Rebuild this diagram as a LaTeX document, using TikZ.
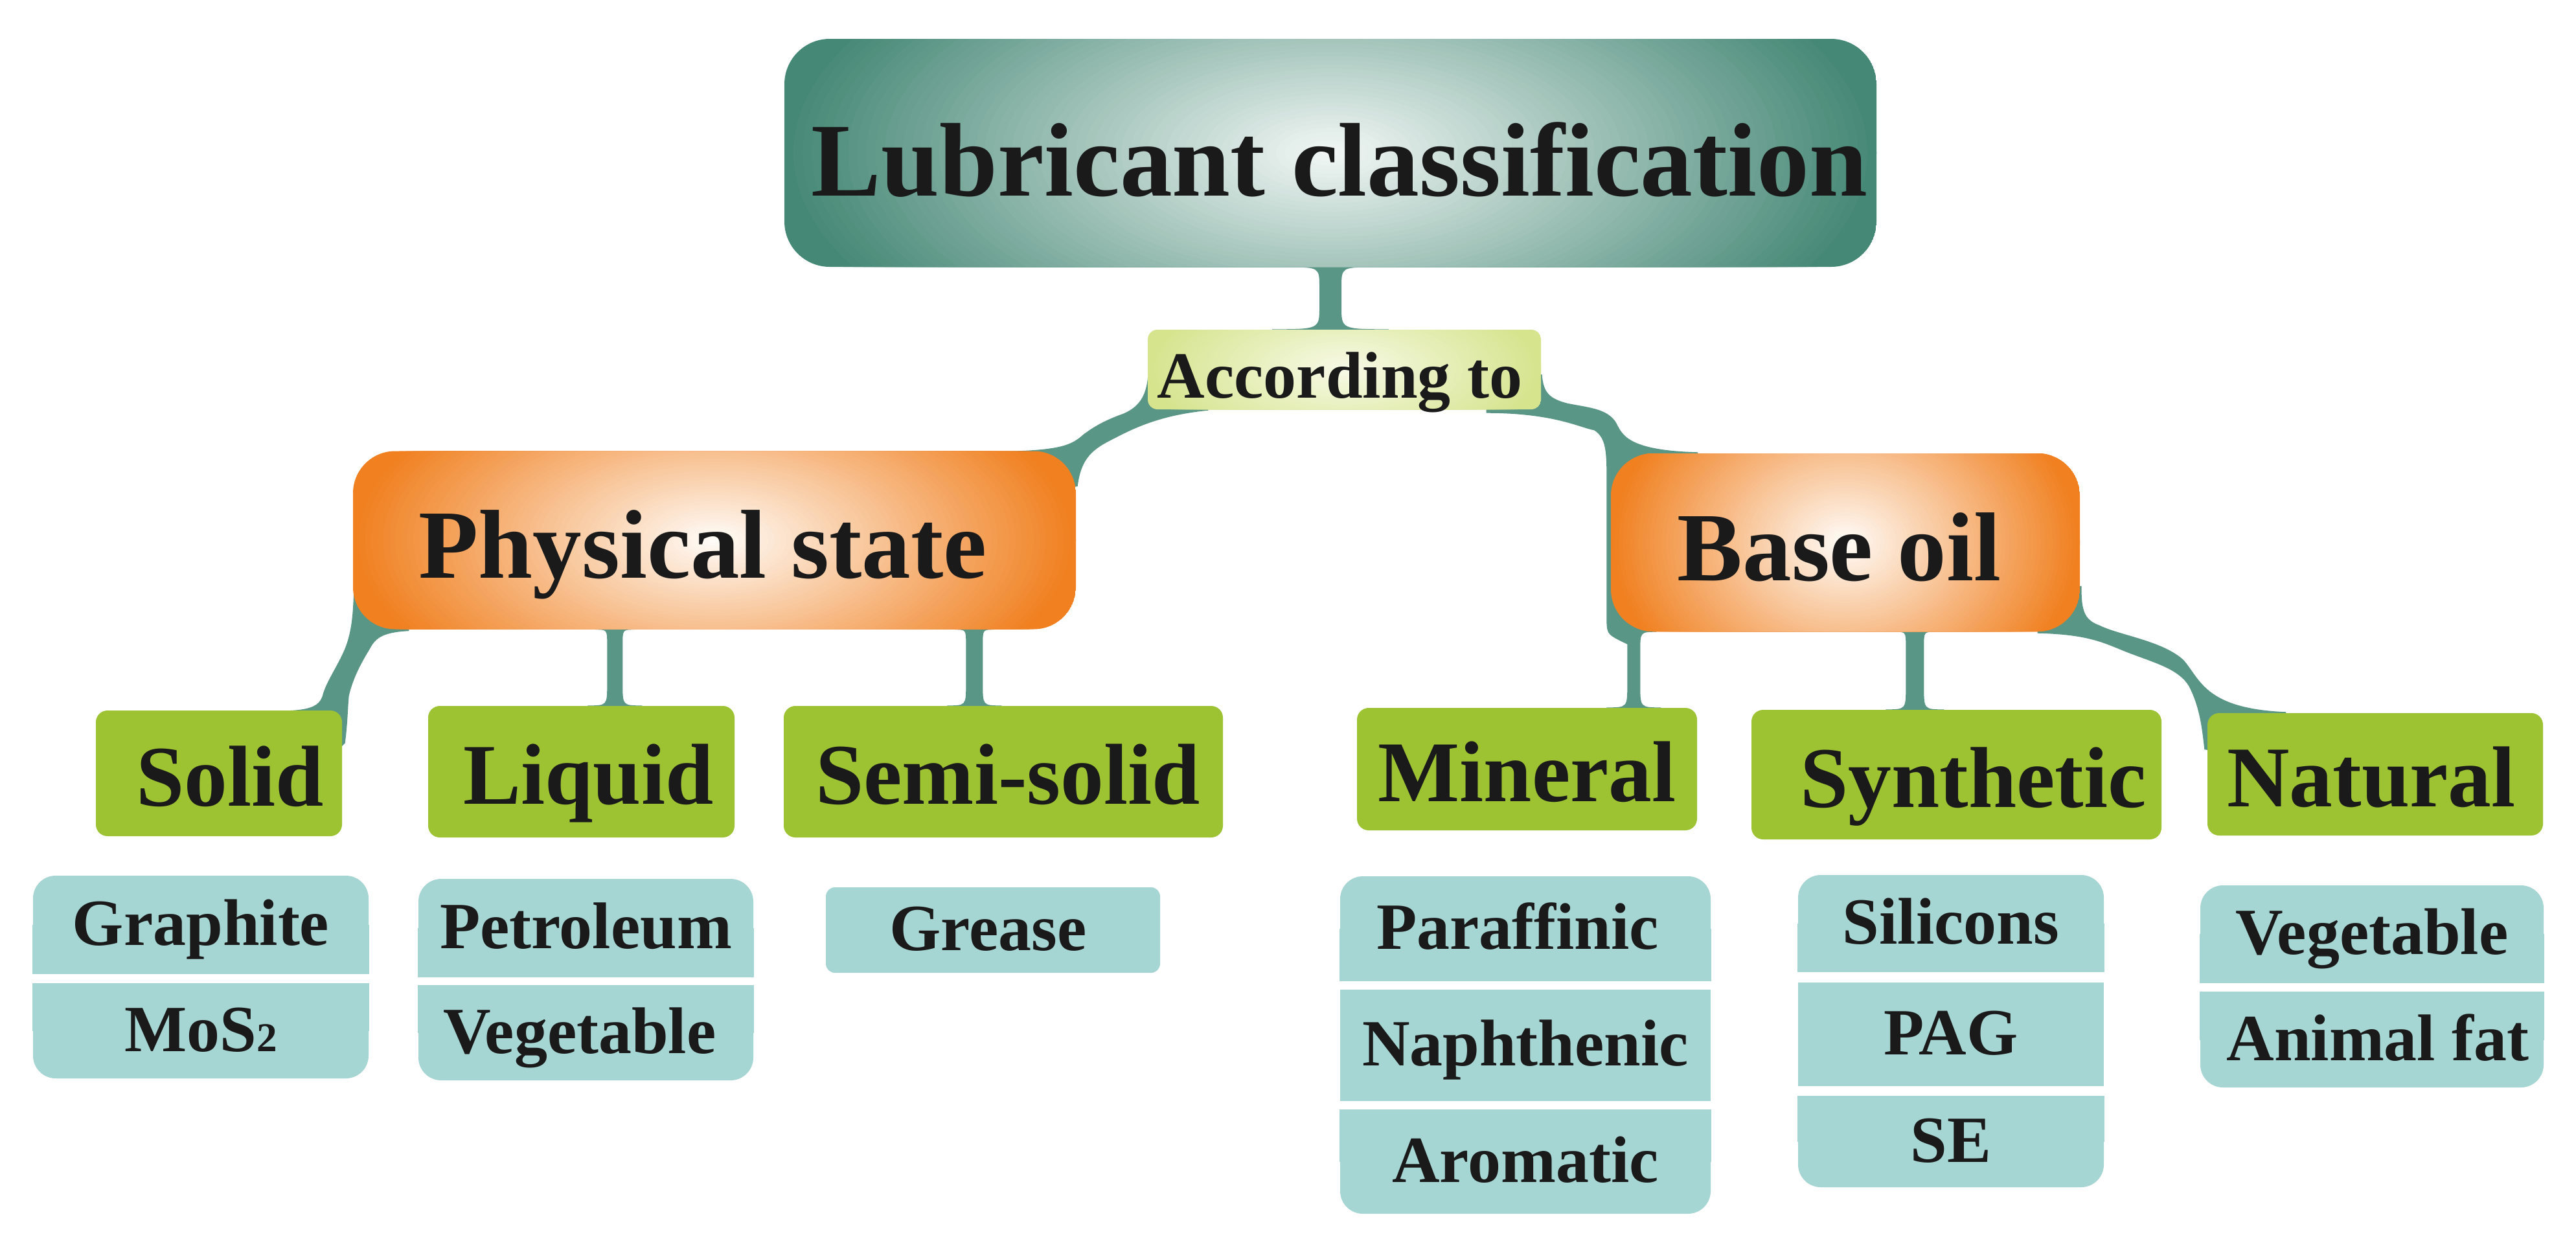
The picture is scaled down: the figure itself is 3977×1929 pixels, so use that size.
\documentclass[tikz,border=0pt]{standalone}
\usepackage{fontspec}
\setmainfont{Liberation Serif}
\usetikzlibrary{calc}
\definecolor{txt}{RGB}{26,26,26}
\definecolor{conn}{RGB}{90,150,134}
\definecolor{tealedge}{RGB}{70,136,118}
\definecolor{tealmid}{RGB}{244,248,246}
\definecolor{orangeedge}{RGB}{240,128,32}
\definecolor{orangemid}{RGB}{255,253,250}
\definecolor{accedge}{RGB}{214,228,142}
\definecolor{accmid}{RGB}{248,250,232}
\definecolor{grn}{RGB}{157,195,50}
\definecolor{ltl}{RGB}{166,214,211}
\pgfdeclarelayer{bg}
\pgfsetlayers{bg,main}
% vertical stem: #1 upper point, #2 lower point, #3 half width, #4 top flare, #5 bottom flare, #6 top fillet, #7 bottom fillet
\newcommand\lubstem[7]{%
 \fill[conn] let \p1=(#1), \p2=(#2) in
 (\x1-#4,\y1+1mm) -- (\x1-#4,\y1) .. controls (\x1-#3,\y1) .. (\x1-#3,\y1-#6)
 -- (\x1-#3,\y2+#7) .. controls (\x1-#3,\y2) .. (\x1-#5,\y2)
 -- (\x1-#5,\y2-1mm) -- (\x1+#5,\y2-1mm) -- (\x1+#5,\y2)
 .. controls (\x1+#3,\y2) .. (\x1+#3,\y2+#7) -- (\x1+#3,\y1-#6)
 .. controls (\x1+#3,\y1) .. (\x1+#4,\y1) -- (\x1+#4,\y1+1mm) -- cycle;}
\tikzset{
 gl/.style n args={3}{path picture={
   \fill[#1edge] (path picture bounding box.south west) rectangle (path picture bounding box.north east);
   \foreach \k in {0,...,59}{
     \pgfmathsetmacro\rr{1-\k/60}
     \pgfmathsetmacro\pp{100*\rr}
     \fill[#1edge!\pp!#1mid] (path picture bounding box.center) ellipse [x radius=\rr*#2, y radius=\rr*#3];
   }}},
 bx/.style={inner sep=0pt, text=txt, align=center, text depth=0pt},
 topbox/.style={bx, gl={teal}{84.3mm}{39mm}, rounded corners=7mm, minimum width=168.6mm, minimum height=35.2mm,
   font=\fontsize{46pt}{46pt}\selectfont\bfseries, text height=38pt},
 accbox/.style={bx, gl={acc}{30.4mm}{13mm}, rounded corners=1.5mm, minimum width=60.7mm, minimum height=12.3mm,
   font=\fontsize{29pt}{29pt}\selectfont\bfseries, text height=24.9pt},
 orbox/.style={bx, rounded corners=6.5mm, minimum height=27.5mm,
   font=\fontsize{43pt}{43pt}\selectfont\bfseries, text height=33.3pt},
 gbox/.style={bx, fill=grn, rounded corners=1.8mm,
   font=\fontsize{38pt}{38pt}\selectfont\bfseries, text height=28.6pt},
 tbox/.style={bx, fill=ltl, rounded corners=3.5mm,
   font=\fontsize{29pt}{29pt}\selectfont\bfseries, text height=18pt}
}
\begin{document}
\begin{tikzpicture}[x=0.1mm,y=-0.1mm]
\useasboundingbox (0,0) rectangle (3977,1929);
% main boxes
\node[topbox] (top) at (2054,236) {\kern2.8mm Lubricant classification};
\node[accbox] (acc) at (2075.5,570.5) {According to\kern1.4mm};
\node[orbox, gl={orange}{55.8mm}{28mm}, minimum width=111.6mm] (phys) at (1103,834) {Physical state\kern3.6mm};
\node[orbox, gl={orange}{36.2mm}{28mm}, minimum width=72.4mm] (base) at (2849,837.5) {Base oil\kern1.9mm};
% green boxes
\node[gbox, minimum width=38mm, minimum height=19.4mm] (solid) at (338,1194) {\kern3.4mm Solid};
\node[gbox, minimum width=47.3mm, minimum height=20.3mm] (liquid) at (897.5,1191.5) {\kern2.2mm Liquid};
\node[gbox, minimum width=67.8mm, minimum height=20.3mm] (semi) at (1549,1191.5) {\kern1.4mm Semi-solid};
\node[gbox, minimum width=52.5mm, minimum height=18.9mm] (mineral) at (2357.5,1187.5) {Mineral};
\node[gbox, minimum width=63.3mm, minimum height=20mm] (synth) at (3020.5,1196) {\kern5.2mm Synthetic};
\node[gbox, minimum width=51.8mm, minimum height=18.9mm] (natural) at (3667,1195.5) {Natural\kern1.2mm};
% light teal boxes
\node[tbox, minimum width=51.8mm, minimum height=15.1mm] (graph) at (310,1427.5) {Graphite};
\node[tbox, minimum width=51.8mm, minimum height=14.6mm] (mos) at (310,1592) {MoS{\fontsize{18pt}{18pt}\selectfont 2}};
\node[tbox, minimum width=51.7mm, minimum height=15.1mm] (petro) at (904.5,1432.5) {Petroleum};
\node[tbox, minimum width=51.7mm, minimum height=14.6mm] (veg1) at (904.5,1595) {Vegetable\kern1.9mm};
\node[tbox, rounded corners=1.4mm, minimum width=51.6mm, minimum height=13.2mm] (grease) at (1533,1436) {Grease\kern1.5mm};
\node[tbox, minimum width=57.2mm, minimum height=16.1mm] (paraf) at (2355,1433.5) {Paraffinic\kern2.4mm};
\node[tbox, sharp corners, minimum width=57.2mm, minimum height=17.2mm] (naph) at (2355,1614) {Naphthenic};
\node[tbox, minimum width=57.2mm, minimum height=16mm] (arom) at (2355,1794) {Aromatic};
\node[tbox, minimum width=47.2mm, minimum height=14.9mm] (silic) at (3012,1425.5) {Silicons};
\node[tbox, sharp corners, minimum width=47.2mm, minimum height=16mm] (pag) at (3012,1597) {PAG};
\node[tbox, minimum width=47.2mm, minimum height=14mm] (se) at (3012,1763) {SE};
\node[tbox, minimum width=53mm, minimum height=15mm] (veg2) at (3662,1442) {Vegetable};
\node[tbox, minimum width=53mm, minimum height=14.7mm] (animal) at (3662,1605.5) {\kern1.8mm Animal fat};

\begin{pgfonlayer}{bg}
\fill[white] (0,0) rectangle (3977,1929);
% square lower / upper corners of stacked boxes
\foreach \n in {graph,petro,paraf,silic,veg2} \fill[ltl] (\n.west) rectangle (\n.south east);
\foreach \n in {mos,veg1,arom,se,animal} \fill[ltl] (\n.north west) rectangle (\n.east);
% stems
\lubstem{top.south}{acc.north}{1.7mm}{6.5mm}{9mm}{3.2mm}{3.5mm}
\lubstem{[shift={(405,0)}]phys.south west}{liquid.north}{1.2mm}{3mm}{4.2mm}{2.3mm}{3.3mm}
\lubstem{[shift={(960,0)}]phys.south west}{semi.north}{1.3mm}{3mm}{4.2mm}{2.3mm}{3.3mm}
\lubstem{[shift={(470,0)}]base.south west}{synth.north}{1.4mm}{3mm}{4.5mm}{2.3mm}{3.5mm}
\lubstem{[shift={(36,0)}]base.south west}{mineral.north}{1mm}{3.5mm}{4.2mm}{3mm}{3.5mm}
% According to -> Physical state
\fill[conn] ([shift={(1,-54)}]acc.south west)
 .. controls ([shift={(-1,-20)}]acc.south west) and ([shift={(-14,-4)}]acc.south west) .. ([shift={(-37,6)}]acc.south west)
 .. controls ([shift={(44,-47)}]phys.north east) and ([shift={(27,-37)}]phys.north east) .. ([shift={(11,-25)}]phys.north east)
 .. controls ([shift={(-6,-10)}]phys.north east) and ([shift={(-21,0)}]phys.north east) .. ([shift={(-115,1)}]phys.north east)
 -- ([shift={(-115,20)}]phys.north east) -- ([shift={(-20,60)}]phys.north east) -- ([shift={(2,55)}]phys.north east)
 .. controls ([shift={(7,15)}]phys.north east) and ([shift={(22,0)}]phys.north east) .. ([shift={(51,-15)}]phys.north east)
 .. controls ([shift={(-27,32)}]acc.south west) and ([shift={(13,9)}]acc.south west) .. ([shift={(94,1)}]acc.south west)
 -- ([shift={(94,-15)}]acc.south west) -- ([shift={(10,-60)}]acc.south west) -- cycle;
% According to -> Base oil (and down to Mineral)
\fill[conn] ([shift={(1,-54)}]acc.south east)
 .. controls ([shift={(3,-25)}]acc.south east) and ([shift={(14,-17)}]acc.south east) .. ([shift={(40,-10)}]acc.south east)
 .. controls ([shift={(75,-3)}]acc.south east) and ([shift={(100,-2)}]acc.south east) .. ([shift={(8,-48)}]base.north west)
 .. controls ([shift={(18,-30)}]base.north west) and ([shift={(22,-4)}]base.north west) .. ([shift={(135,-1)}]base.north west)
 -- ([shift={(135,25)}]base.north west) -- ([shift={(50,-30)}]base.south west) -- ([shift={(36,19)}]base.south west) -- ([shift={(26,19)}]base.south west)
 .. controls ([shift={(-5,4)}]base.south west) .. ([shift={(-6,-16)}]base.south west)
 -- ([shift={(-6,30)}]base.north west)
 .. controls ([shift={(-6,-10)}]base.north west) and ([shift={(-10,-25)}]base.north west) .. ([shift={(-25,-35)}]base.north west)
 .. controls ([shift={(60,28)}]acc.south east) and ([shift={(20,5)}]acc.south east) .. ([shift={(-85,5)}]acc.south east)
 -- ([shift={(-85,-15)}]acc.south east) -- ([shift={(-10,-60)}]acc.south east) -- cycle;
% Physical state -> Solid
\fill[conn] ([shift={(2,-66)}]phys.south west)
 .. controls ([shift={(1,-20)}]phys.south west) and ([shift={(-2,5)}]phys.south west) .. ([shift={(-12,30)}]phys.south west)
 .. controls ([shift={(-8,-67)}]solid.north east) and ([shift={(-23,-47)}]solid.north east) .. ([shift={(-30,-25)}]solid.north east)
 .. controls ([shift={(-34,-7)}]solid.north east) and ([shift={(-48,0)}]solid.north east) .. ([shift={(-88,1)}]solid.north east)
 -- ([shift={(-88,20)}]solid.north east) -- ([shift={(-5,60)}]solid.north east) -- ([shift={(4,51)}]solid.north east)
 .. controls ([shift={(8,20)}]solid.north east) and ([shift={(8,0)}]solid.north east) .. ([shift={(10,-22)}]solid.north east)
 .. controls ([shift={(17,-52)}]solid.north east) and ([shift={(15,49)}]phys.south west) .. ([shift={(27,29)}]phys.south west)
 .. controls ([shift={(35,14)}]phys.south west) and ([shift={(45,4)}]phys.south west) .. ([shift={(87,2)}]phys.south west)
 -- ([shift={(87,-20)}]phys.south west) -- ([shift={(10,-70)}]phys.south west) -- cycle;
% Base oil -> Natural
\fill[conn] ([shift={(2,-71)}]base.south east)
 .. controls ([shift={(1,-30)}]base.south east) and ([shift={(8,-18)}]base.south east) .. ([shift={(30,-10)}]base.south east)
 .. controls ([shift={(60,5)}]base.south east) and ([shift={(-68,-111)}]natural.north west) .. ([shift={(-36,-81)}]natural.north west)
 .. controls ([shift={(-10,-51)}]natural.north west) and ([shift={(-3,-6)}]natural.north west) .. ([shift={(122,-1)}]natural.north west)
 -- ([shift={(122,20)}]natural.north west) -- ([shift={(20,60)}]natural.north west) -- ([shift={(-4,57)}]natural.north west)
 .. controls ([shift={(-8,20)}]natural.north west) and ([shift={(-12,-10)}]natural.north west) .. ([shift={(-28,-41)}]natural.north west)
 .. controls ([shift={(-43,-66)}]natural.north west) and ([shift={(119,49)}]base.south east) .. ([shift={(79,34)}]base.south east)
 .. controls ([shift={(39,19)}]base.south east) and ([shift={(19,4)}]base.south east) .. ([shift={(-66,2)}]base.south east)
 -- ([shift={(-66,-20)}]base.south east) -- ([shift={(-10,-70)}]base.south east) -- cycle;
\end{pgfonlayer}
\end{tikzpicture}
\end{document}
